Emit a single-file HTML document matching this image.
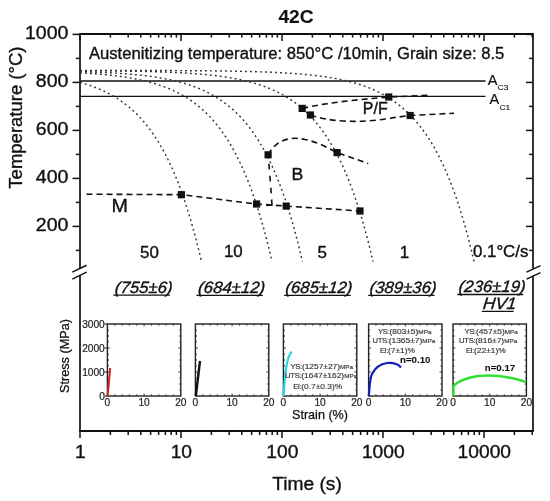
<!DOCTYPE html>
<html><head><meta charset="utf-8"><title>42C CCT diagram</title>
<style>html,body{margin:0;padding:0;background:#fff;}svg{display:block;}</style></head>
<body><svg width="550" height="501" viewBox="0 0 550 501">
<rect width="550" height="501" fill="#fff"/>
<g stroke="#111" fill="none" stroke-linecap="butt">
<line x1="79.2" y1="34" x2="533.8" y2="34" stroke-width="1.8"/>
<line x1="79.2" y1="431" x2="533.8" y2="431" stroke-width="1.8"/>
<line x1="80" y1="34" x2="80" y2="268.4" stroke-width="1.7"/>
<line x1="80" y1="275.4" x2="80" y2="431" stroke-width="1.7"/>
<line x1="533" y1="34" x2="533" y2="268.8" stroke-width="1.7"/>
<line x1="533" y1="275.8" x2="533" y2="431" stroke-width="1.7"/>
<line x1="72.3" y1="272.1" x2="86.6" y2="265.3" stroke-width="1.5"/>
<line x1="72.3" y1="279.1" x2="86.6" y2="272.1" stroke-width="1.5"/>
<line x1="526.5" y1="272.1" x2="540.5" y2="265.6" stroke-width="1.5"/>
<line x1="526.5" y1="279.1" x2="540.5" y2="272.6" stroke-width="1.5"/>
<line x1="75.8" y1="250.4" x2="80" y2="250.4" stroke-width="1.5"/>
<line x1="529.2" y1="250.4" x2="533" y2="250.4" stroke-width="1.5"/>
<line x1="72.5" y1="226.4" x2="80" y2="226.4" stroke-width="1.5"/>
<line x1="526" y1="226.4" x2="533" y2="226.4" stroke-width="1.5"/>
<line x1="75.8" y1="202.4" x2="80" y2="202.4" stroke-width="1.5"/>
<line x1="529.2" y1="202.4" x2="533" y2="202.4" stroke-width="1.5"/>
<line x1="72.5" y1="178.4" x2="80" y2="178.4" stroke-width="1.5"/>
<line x1="526" y1="178.4" x2="533" y2="178.4" stroke-width="1.5"/>
<line x1="75.8" y1="154.4" x2="80" y2="154.4" stroke-width="1.5"/>
<line x1="529.2" y1="154.4" x2="533" y2="154.4" stroke-width="1.5"/>
<line x1="72.5" y1="130.4" x2="80" y2="130.4" stroke-width="1.5"/>
<line x1="526" y1="130.4" x2="533" y2="130.4" stroke-width="1.5"/>
<line x1="75.8" y1="106.4" x2="80" y2="106.4" stroke-width="1.5"/>
<line x1="529.2" y1="106.4" x2="533" y2="106.4" stroke-width="1.5"/>
<line x1="72.5" y1="82.4" x2="80" y2="82.4" stroke-width="1.5"/>
<line x1="526" y1="82.4" x2="533" y2="82.4" stroke-width="1.5"/>
<line x1="75.8" y1="58.4" x2="80" y2="58.4" stroke-width="1.5"/>
<line x1="529.2" y1="58.4" x2="533" y2="58.4" stroke-width="1.5"/>
<line x1="72.5" y1="34.4" x2="80" y2="34.4" stroke-width="1.5"/>
<line x1="526" y1="34.4" x2="533" y2="34.4" stroke-width="1.5"/>
<line x1="80.0" y1="431" x2="80.0" y2="438" stroke-width="1.5"/>
<line x1="80.0" y1="34" x2="80.0" y2="41" stroke-width="1.5"/>
<line x1="110.4" y1="431" x2="110.4" y2="435" stroke-width="1.5"/>
<line x1="110.4" y1="34" x2="110.4" y2="37.6" stroke-width="1.5"/>
<line x1="128.2" y1="431" x2="128.2" y2="435" stroke-width="1.5"/>
<line x1="128.2" y1="34" x2="128.2" y2="37.6" stroke-width="1.5"/>
<line x1="140.8" y1="431" x2="140.8" y2="435" stroke-width="1.5"/>
<line x1="140.8" y1="34" x2="140.8" y2="37.6" stroke-width="1.5"/>
<line x1="150.6" y1="431" x2="150.6" y2="435" stroke-width="1.5"/>
<line x1="150.6" y1="34" x2="150.6" y2="37.6" stroke-width="1.5"/>
<line x1="158.6" y1="431" x2="158.6" y2="435" stroke-width="1.5"/>
<line x1="158.6" y1="34" x2="158.6" y2="37.6" stroke-width="1.5"/>
<line x1="165.4" y1="431" x2="165.4" y2="435" stroke-width="1.5"/>
<line x1="165.4" y1="34" x2="165.4" y2="37.6" stroke-width="1.5"/>
<line x1="171.2" y1="431" x2="171.2" y2="435" stroke-width="1.5"/>
<line x1="171.2" y1="34" x2="171.2" y2="37.6" stroke-width="1.5"/>
<line x1="176.4" y1="431" x2="176.4" y2="435" stroke-width="1.5"/>
<line x1="176.4" y1="34" x2="176.4" y2="37.6" stroke-width="1.5"/>
<line x1="181.0" y1="431" x2="181.0" y2="438" stroke-width="1.5"/>
<line x1="181.0" y1="34" x2="181.0" y2="41" stroke-width="1.5"/>
<line x1="211.4" y1="431" x2="211.4" y2="435" stroke-width="1.5"/>
<line x1="211.4" y1="34" x2="211.4" y2="37.6" stroke-width="1.5"/>
<line x1="229.2" y1="431" x2="229.2" y2="435" stroke-width="1.5"/>
<line x1="229.2" y1="34" x2="229.2" y2="37.6" stroke-width="1.5"/>
<line x1="241.8" y1="431" x2="241.8" y2="435" stroke-width="1.5"/>
<line x1="241.8" y1="34" x2="241.8" y2="37.6" stroke-width="1.5"/>
<line x1="251.6" y1="431" x2="251.6" y2="435" stroke-width="1.5"/>
<line x1="251.6" y1="34" x2="251.6" y2="37.6" stroke-width="1.5"/>
<line x1="259.6" y1="431" x2="259.6" y2="435" stroke-width="1.5"/>
<line x1="259.6" y1="34" x2="259.6" y2="37.6" stroke-width="1.5"/>
<line x1="266.4" y1="431" x2="266.4" y2="435" stroke-width="1.5"/>
<line x1="266.4" y1="34" x2="266.4" y2="37.6" stroke-width="1.5"/>
<line x1="272.2" y1="431" x2="272.2" y2="435" stroke-width="1.5"/>
<line x1="272.2" y1="34" x2="272.2" y2="37.6" stroke-width="1.5"/>
<line x1="277.4" y1="431" x2="277.4" y2="435" stroke-width="1.5"/>
<line x1="277.4" y1="34" x2="277.4" y2="37.6" stroke-width="1.5"/>
<line x1="282.0" y1="431" x2="282.0" y2="438" stroke-width="1.5"/>
<line x1="282.0" y1="34" x2="282.0" y2="41" stroke-width="1.5"/>
<line x1="312.4" y1="431" x2="312.4" y2="435" stroke-width="1.5"/>
<line x1="312.4" y1="34" x2="312.4" y2="37.6" stroke-width="1.5"/>
<line x1="330.2" y1="431" x2="330.2" y2="435" stroke-width="1.5"/>
<line x1="330.2" y1="34" x2="330.2" y2="37.6" stroke-width="1.5"/>
<line x1="342.8" y1="431" x2="342.8" y2="435" stroke-width="1.5"/>
<line x1="342.8" y1="34" x2="342.8" y2="37.6" stroke-width="1.5"/>
<line x1="352.6" y1="431" x2="352.6" y2="435" stroke-width="1.5"/>
<line x1="352.6" y1="34" x2="352.6" y2="37.6" stroke-width="1.5"/>
<line x1="360.6" y1="431" x2="360.6" y2="435" stroke-width="1.5"/>
<line x1="360.6" y1="34" x2="360.6" y2="37.6" stroke-width="1.5"/>
<line x1="367.4" y1="431" x2="367.4" y2="435" stroke-width="1.5"/>
<line x1="367.4" y1="34" x2="367.4" y2="37.6" stroke-width="1.5"/>
<line x1="373.2" y1="431" x2="373.2" y2="435" stroke-width="1.5"/>
<line x1="373.2" y1="34" x2="373.2" y2="37.6" stroke-width="1.5"/>
<line x1="378.4" y1="431" x2="378.4" y2="435" stroke-width="1.5"/>
<line x1="378.4" y1="34" x2="378.4" y2="37.6" stroke-width="1.5"/>
<line x1="383.0" y1="431" x2="383.0" y2="438" stroke-width="1.5"/>
<line x1="383.0" y1="34" x2="383.0" y2="41" stroke-width="1.5"/>
<line x1="413.4" y1="431" x2="413.4" y2="435" stroke-width="1.5"/>
<line x1="413.4" y1="34" x2="413.4" y2="37.6" stroke-width="1.5"/>
<line x1="431.2" y1="431" x2="431.2" y2="435" stroke-width="1.5"/>
<line x1="431.2" y1="34" x2="431.2" y2="37.6" stroke-width="1.5"/>
<line x1="443.8" y1="431" x2="443.8" y2="435" stroke-width="1.5"/>
<line x1="443.8" y1="34" x2="443.8" y2="37.6" stroke-width="1.5"/>
<line x1="453.6" y1="431" x2="453.6" y2="435" stroke-width="1.5"/>
<line x1="453.6" y1="34" x2="453.6" y2="37.6" stroke-width="1.5"/>
<line x1="461.6" y1="431" x2="461.6" y2="435" stroke-width="1.5"/>
<line x1="461.6" y1="34" x2="461.6" y2="37.6" stroke-width="1.5"/>
<line x1="468.4" y1="431" x2="468.4" y2="435" stroke-width="1.5"/>
<line x1="468.4" y1="34" x2="468.4" y2="37.6" stroke-width="1.5"/>
<line x1="474.2" y1="431" x2="474.2" y2="435" stroke-width="1.5"/>
<line x1="474.2" y1="34" x2="474.2" y2="37.6" stroke-width="1.5"/>
<line x1="479.4" y1="431" x2="479.4" y2="435" stroke-width="1.5"/>
<line x1="479.4" y1="34" x2="479.4" y2="37.6" stroke-width="1.5"/>
<line x1="484.0" y1="431" x2="484.0" y2="438" stroke-width="1.5"/>
<line x1="484.0" y1="34" x2="484.0" y2="41" stroke-width="1.5"/>
<line x1="514.4" y1="431" x2="514.4" y2="435" stroke-width="1.5"/>
<line x1="514.4" y1="34" x2="514.4" y2="37.6" stroke-width="1.5"/>
<line x1="532.2" y1="431" x2="532.2" y2="435" stroke-width="1.5"/>
<line x1="532.2" y1="34" x2="532.2" y2="37.6" stroke-width="1.5"/>
</g>
<text transform="translate(68.40 39.00) scale(1.040 1)" font-family='"Liberation Sans", Arial, sans-serif' font-size="18.8" fill="#111" stroke="#111" stroke-width="0.35" text-anchor="end">1000</text>
<text transform="translate(68.40 87.00) scale(1.040 1)" font-family='"Liberation Sans", Arial, sans-serif' font-size="18.8" fill="#111" stroke="#111" stroke-width="0.35" text-anchor="end">800</text>
<text transform="translate(68.40 135.00) scale(1.040 1)" font-family='"Liberation Sans", Arial, sans-serif' font-size="18.8" fill="#111" stroke="#111" stroke-width="0.35" text-anchor="end">600</text>
<text transform="translate(68.40 183.00) scale(1.040 1)" font-family='"Liberation Sans", Arial, sans-serif' font-size="18.8" fill="#111" stroke="#111" stroke-width="0.35" text-anchor="end">400</text>
<text transform="translate(68.40 231.00) scale(1.040 1)" font-family='"Liberation Sans", Arial, sans-serif' font-size="18.8" fill="#111" stroke="#111" stroke-width="0.35" text-anchor="end">200</text>
<text transform="translate(80.30 457.60) scale(1.050 1)" font-family='"Liberation Sans", Arial, sans-serif' font-size="18.3" fill="#111" stroke="#111" stroke-width="0.35" text-anchor="middle">1</text>
<text transform="translate(181.30 457.60) scale(1.050 1)" font-family='"Liberation Sans", Arial, sans-serif' font-size="18.3" fill="#111" stroke="#111" stroke-width="0.35" text-anchor="middle">10</text>
<text transform="translate(282.30 457.60) scale(1.050 1)" font-family='"Liberation Sans", Arial, sans-serif' font-size="18.3" fill="#111" stroke="#111" stroke-width="0.35" text-anchor="middle">100</text>
<text transform="translate(383.30 457.60) scale(1.050 1)" font-family='"Liberation Sans", Arial, sans-serif' font-size="18.3" fill="#111" stroke="#111" stroke-width="0.35" text-anchor="middle">1000</text>
<text transform="translate(484.30 457.60) scale(1.050 1)" font-family='"Liberation Sans", Arial, sans-serif' font-size="18.3" fill="#111" stroke="#111" stroke-width="0.35" text-anchor="middle">10000</text>
<text transform="translate(272.20 490.00)" font-family='"Liberation Sans", Arial, sans-serif' font-size="19.2" fill="#111" stroke="#111" stroke-width="0.35">Time (s)</text>
<text transform="translate(22.3,117.6) rotate(-90)" text-anchor="middle" font-family='"Liberation Sans", Arial, sans-serif' font-size="18.5" fill="#111" stroke="#111" stroke-width="0.35">Temperature (°C)</text>
<text transform="translate(278.40 23.10)" font-family='"Liberation Sans", Arial, sans-serif' font-size="19.2" fill="#111" stroke="#111" stroke-width="0.1" font-weight="bold">42C</text>
<text transform="translate(88.90 58.60)" font-family='"Liberation Sans", Arial, sans-serif' font-size="16.65" fill="#111" stroke="#111" stroke-width="0.35">Austenitizing temperature: 850°C /10min, Grain size: 8.5</text>
<line x1="80" y1="81" x2="485.5" y2="81" stroke="#111" stroke-width="1.3"/>
<line x1="80" y1="96.3" x2="485.5" y2="96.3" stroke="#111" stroke-width="1.3"/>
<text transform="translate(487.80 84.50)" font-family='"Liberation Sans", Arial, sans-serif' font-size="14.5" fill="#111" stroke="#111" stroke-width="0.2">A</text>
<text transform="translate(497.60 89.70) scale(1.120 1)" font-family='"Liberation Sans", Arial, sans-serif' font-size="7.6" fill="#111" stroke="#111" stroke-width="0.12">C3</text>
<text transform="translate(489.50 103.80)" font-family='"Liberation Sans", Arial, sans-serif' font-size="14.5" fill="#111" stroke="#111" stroke-width="0.2">A</text>
<text transform="translate(499.40 109.70) scale(1.120 1)" font-family='"Liberation Sans", Arial, sans-serif' font-size="7.6" fill="#111" stroke="#111" stroke-width="0.12">C1</text>
<polyline points="80.00,82.40 80.30,82.48 80.61,82.57 80.91,82.65 81.21,82.74 81.52,82.82 81.82,82.91 82.12,83.00 82.43,83.08 82.73,83.17 83.04,83.26 83.34,83.35 83.64,83.44 83.95,83.53 84.25,83.62 84.55,83.71 84.86,83.80 85.16,83.90 85.46,83.99 85.77,84.09 86.07,84.18 86.37,84.28 86.68,84.37 86.98,84.47 87.28,84.57 87.59,84.67 87.89,84.77 88.20,84.87 88.50,84.97 88.80,85.07 89.11,85.17 89.41,85.27 89.71,85.37 90.02,85.48 90.32,85.58 90.62,85.69 90.93,85.79 91.23,85.90 91.53,86.01 91.84,86.12 92.14,86.23 92.44,86.34 92.75,86.45 93.05,86.56 93.36,86.67 93.66,86.78 93.96,86.90 94.27,87.01 94.57,87.13 94.87,87.24 95.18,87.36 95.48,87.48 95.78,87.60 96.09,87.72 96.39,87.84 96.69,87.96 97.00,88.08 97.30,88.20 97.60,88.33 97.91,88.45 98.21,88.58 98.52,88.70 98.82,88.83 99.12,88.96 99.43,89.09 99.73,89.22 100.03,89.35 100.34,89.48 100.64,89.61 100.94,89.74 101.25,89.88 101.55,90.01 101.85,90.15 102.16,90.29 102.46,90.42 102.76,90.56 103.07,90.70 103.37,90.84 103.67,90.99 103.98,91.13 104.28,91.27 104.59,91.42 104.89,91.56 105.19,91.71 105.50,91.86 105.80,92.01 106.10,92.16 106.41,92.31 106.71,92.46 107.01,92.61 107.32,92.77 107.62,92.92 107.92,93.08 108.23,93.24 108.53,93.40 108.83,93.56 109.14,93.72 109.44,93.88 109.75,94.04 110.05,94.21 110.35,94.37 110.66,94.54 110.96,94.71 111.26,94.87 111.57,95.04 111.87,95.22 112.17,95.39 112.48,95.56 112.78,95.74 113.08,95.91 113.39,96.09 113.69,96.27 113.99,96.45 114.30,96.63 114.60,96.81 114.91,96.99 115.21,97.18 115.51,97.36 115.82,97.55 116.12,97.74 116.42,97.93 116.73,98.12 117.03,98.31 117.33,98.51 117.64,98.70 117.94,98.90 118.24,99.10 118.55,99.30 118.85,99.50 119.15,99.70 119.46,99.90 119.76,100.11 120.07,100.31 120.37,100.52 120.67,100.73 120.98,100.94 121.28,101.15 121.58,101.37 121.89,101.58 122.19,101.80 122.49,102.02 122.80,102.24 123.10,102.46 123.40,102.68 123.71,102.90 124.01,103.13 124.31,103.36 124.62,103.59 124.92,103.82 125.23,104.05 125.53,104.28 125.83,104.52 126.14,104.75 126.44,104.99 126.74,105.23 127.05,105.47 127.35,105.72 127.65,105.96 127.96,106.21 128.26,106.46 128.56,106.71 128.87,106.96 129.17,107.21 129.47,107.47 129.78,107.73 130.08,107.99 130.39,108.25 130.69,108.51 130.99,108.78 131.30,109.04 131.60,109.31 131.90,109.58 132.21,109.85 132.51,110.13 132.81,110.40 133.12,110.68 133.42,110.96 133.72,111.24 134.03,111.53 134.33,111.81 134.63,112.10 134.94,112.39 135.24,112.68 135.55,112.97 135.85,113.27 136.15,113.57 136.46,113.87 136.76,114.17 137.06,114.47 137.37,114.78 137.67,115.09 137.97,115.40 138.28,115.71 138.58,116.02 138.88,116.34 139.19,116.66 139.49,116.98 139.79,117.30 140.10,117.63 140.40,117.96 140.71,118.29 141.01,118.62 141.31,118.95 141.62,119.29 141.92,119.63 142.22,119.97 142.53,120.32 142.83,120.66 143.13,121.01 143.44,121.36 143.74,121.72 144.04,122.07 144.35,122.43 144.65,122.79 144.95,123.16 145.26,123.53 145.56,123.89 145.86,124.27 146.17,124.64 146.47,125.02 146.78,125.40 147.08,125.78 147.38,126.16 147.69,126.55 147.99,126.94 148.29,127.33 148.60,127.73 148.90,128.12 149.20,128.53 149.51,128.93 149.81,129.34 150.11,129.74 150.42,130.16 150.72,130.57 151.02,130.99 151.33,131.41 151.63,131.83 151.94,132.26 152.24,132.69 152.54,133.12 152.85,133.56 153.15,134.00 153.45,134.44 153.76,134.88 154.06,135.33 154.36,135.78 154.67,136.24 154.97,136.69 155.27,137.15 155.58,137.62 155.88,138.08 156.18,138.55 156.49,139.03 156.79,139.50 157.10,139.98 157.40,140.47 157.70,140.95 158.01,141.44 158.31,141.94 158.61,142.43 158.92,142.93 159.22,143.44 159.52,143.94 159.83,144.45 160.13,144.97 160.43,145.49 160.74,146.01 161.04,146.53 161.34,147.06 161.65,147.59 161.95,148.13 162.26,148.67 162.56,149.21 162.86,149.76 163.17,150.31 163.47,150.87 163.77,151.42 164.08,151.99 164.38,152.55 164.68,153.12 164.99,153.70 165.29,154.28 165.59,154.86 165.90,155.45 166.20,156.04 166.50,156.63 166.81,157.23 167.11,157.83 167.42,158.44 167.72,159.05 168.02,159.67 168.33,160.29 168.63,160.91 168.93,161.54 169.24,162.17 169.54,162.81 169.84,163.45 170.15,164.10 170.45,164.75 170.75,165.40 171.06,166.06 171.36,166.73 171.66,167.40 171.97,168.07 172.27,168.75 172.58,169.43 172.88,170.12 173.18,170.81 173.49,171.51 173.79,172.21 174.09,172.92 174.40,173.63 174.70,174.34 175.00,175.07 175.31,175.79 175.61,176.53 175.91,177.26 176.22,178.00 176.52,178.75 176.82,179.50 177.13,180.26 177.43,181.02 177.74,181.79 178.04,182.57 178.34,183.34 178.65,184.13 178.95,184.92 179.25,185.71 179.56,186.51 179.86,187.32 180.16,188.13 180.47,188.95 180.77,189.77 181.07,190.60 181.38,191.44 181.68,192.28 181.98,193.12 182.29,193.98 182.59,194.83 182.89,195.70 183.20,196.57 183.50,197.44 183.81,198.33 184.11,199.21 184.41,200.11 184.72,201.01 185.02,201.92 185.32,202.83 185.63,203.75 185.93,204.68 186.23,205.61 186.54,206.55 186.84,207.49 187.14,208.44 187.45,209.40 187.75,210.37 188.05,211.34 188.36,212.32 188.66,213.30 188.97,214.30 189.27,215.29 189.57,216.30 189.88,217.31 190.18,218.33 190.48,219.36 190.79,220.40 191.09,221.44 191.39,222.49 191.70,223.54 192.00,224.61 192.30,225.68 192.61,226.75 192.91,227.84 193.21,228.93 193.52,230.03 193.82,231.14 194.13,232.26 194.43,233.38 194.73,234.51 195.04,235.65 195.34,236.80 195.64,237.96 195.95,239.12 196.25,240.29 196.55,241.47 196.86,242.66 197.16,243.86 197.46,245.06 197.77,246.27 198.07,247.49 198.37,248.72 198.68,249.96 198.98,251.21 199.29,252.46 199.59,253.73 199.89,255.00 200.20,256.28 200.50,257.57 200.80,258.87 201.11,260.18 201.41,261.50" fill="none" stroke="#333" stroke-width="1.45" stroke-dasharray="1.9 3.1"/>
<polyline points="80.00,72.80 80.48,72.83 80.96,72.85 81.44,72.88 81.92,72.91 82.40,72.93 82.88,72.96 83.36,72.99 83.84,73.02 84.32,73.05 84.80,73.08 85.28,73.11 85.76,73.14 86.24,73.17 86.72,73.20 87.20,73.23 87.68,73.26 88.16,73.29 88.64,73.32 89.12,73.35 89.60,73.39 90.08,73.42 90.56,73.45 91.04,73.49 91.52,73.52 92.00,73.56 92.48,73.59 92.96,73.63 93.44,73.66 93.92,73.70 94.40,73.73 94.88,73.77 95.36,73.81 95.84,73.84 96.32,73.88 96.80,73.92 97.28,73.96 97.76,74.00 98.24,74.04 98.72,74.08 99.20,74.12 99.68,74.16 100.16,74.20 100.64,74.24 101.12,74.28 101.60,74.33 102.08,74.37 102.56,74.41 103.04,74.46 103.52,74.50 104.00,74.55 104.48,74.59 104.96,74.64 105.44,74.69 105.92,74.73 106.40,74.78 106.88,74.83 107.36,74.88 107.84,74.93 108.32,74.98 108.80,75.03 109.28,75.08 109.76,75.13 110.24,75.18 110.72,75.23 111.20,75.29 111.68,75.34 112.16,75.40 112.64,75.45 113.12,75.51 113.60,75.56 114.08,75.62 114.56,75.68 115.04,75.74 115.52,75.79 116.00,75.85 116.48,75.91 116.96,75.97 117.44,76.04 117.92,76.10 118.40,76.16 118.88,76.22 119.36,76.29 119.84,76.35 120.32,76.42 120.80,76.48 121.28,76.55 121.76,76.62 122.24,76.69 122.72,76.76 123.20,76.83 123.68,76.90 124.16,76.97 124.64,77.04 125.12,77.11 125.60,77.19 126.08,77.26 126.56,77.34 127.04,77.41 127.52,77.49 128.00,77.57 128.48,77.65 128.96,77.73 129.44,77.81 129.92,77.89 130.40,77.97 130.88,78.06 131.36,78.14 131.84,78.23 132.32,78.31 132.80,78.40 133.28,78.49 133.76,78.58 134.24,78.67 134.72,78.76 135.20,78.85 135.68,78.94 136.16,79.04 136.64,79.13 137.12,79.23 137.60,79.32 138.08,79.42 138.56,79.52 139.04,79.62 139.52,79.72 140.00,79.83 140.48,79.93 140.96,80.03 141.44,80.14 141.92,80.25 142.40,80.36 142.88,80.46 143.36,80.58 143.84,80.69 144.32,80.80 144.80,80.92 145.28,81.03 145.76,81.15 146.24,81.27 146.72,81.39 147.20,81.51 147.68,81.63 148.16,81.75 148.64,81.88 149.12,82.00 149.60,82.13 150.08,82.26 150.56,82.39 151.04,82.52 151.52,82.66 152.00,82.79 152.48,82.93 152.96,83.07 153.44,83.20 153.92,83.35 154.40,83.49 154.88,83.63 155.36,83.78 155.84,83.92 156.32,84.07 156.80,84.22 157.28,84.38 157.76,84.53 158.24,84.69 158.72,84.84 159.20,85.00 159.68,85.16 160.16,85.32 160.64,85.49 161.12,85.65 161.60,85.82 162.08,85.99 162.56,86.16 163.04,86.34 163.52,86.51 164.00,86.69 164.48,86.87 164.96,87.05 165.44,87.23 165.92,87.42 166.40,87.61 166.88,87.80 167.36,87.99 167.84,88.18 168.32,88.38 168.80,88.57 169.28,88.77 169.76,88.98 170.24,89.18 170.72,89.39 171.20,89.60 171.68,89.81 172.16,90.02 172.64,90.24 173.12,90.45 173.60,90.68 174.08,90.90 174.56,91.12 175.04,91.35 175.52,91.58 176.00,91.82 176.48,92.05 176.96,92.29 177.44,92.53 177.92,92.77 178.40,93.02 178.88,93.27 179.36,93.52 179.84,93.78 180.32,94.03 180.80,94.29 181.28,94.56 181.76,94.82 182.24,95.09 182.72,95.36 183.20,95.64 183.68,95.91 184.16,96.19 184.64,96.48 185.12,96.77 185.60,97.06 186.08,97.35 186.56,97.65 187.04,97.95 187.52,98.25 188.00,98.55 188.48,98.86 188.96,99.18 189.44,99.49 189.92,99.81 190.40,100.14 190.88,100.47 191.36,100.80 191.84,101.13 192.32,101.47 192.80,101.81 193.28,102.16 193.76,102.51 194.24,102.86 194.72,103.22 195.20,103.58 195.68,103.94 196.16,104.31 196.64,104.68 197.12,105.06 197.60,105.44 198.08,105.83 198.56,106.22 199.04,106.61 199.52,107.01 200.00,107.41 200.48,107.82 200.96,108.23 201.44,108.65 201.92,109.07 202.40,109.50 202.88,109.93 203.36,110.36 203.84,110.80 204.32,111.25 204.80,111.69 205.28,112.15 205.76,112.61 206.24,113.07 206.72,113.54 207.20,114.02 207.68,114.50 208.16,114.98 208.64,115.47 209.12,115.97 209.60,116.47 210.08,116.98 210.56,117.49 211.04,118.01 211.52,118.53 212.00,119.06 212.48,119.60 212.96,120.14 213.44,120.69 213.92,121.24 214.40,121.80 214.88,122.36 215.36,122.94 215.84,123.51 216.32,124.10 216.80,124.69 217.28,125.29 217.76,125.89 218.24,126.50 218.72,127.12 219.20,127.74 219.68,128.37 220.16,129.01 220.64,129.66 221.12,130.31 221.60,130.97 222.08,131.63 222.56,132.31 223.04,132.99 223.52,133.68 224.00,134.37 224.48,135.08 224.96,135.79 225.44,136.51 225.92,137.24 226.40,137.97 226.88,138.71 227.36,139.47 227.84,140.23 228.32,140.99 228.80,141.77 229.28,142.56 229.76,143.35 230.24,144.15 230.72,144.97 231.20,145.79 231.68,146.61 232.16,147.45 232.64,148.30 233.12,149.16 233.60,150.03 234.08,150.90 234.56,151.79 235.04,152.68 235.52,153.59 236.00,154.50 236.48,155.43 236.96,156.36 237.44,157.31 237.92,158.27 238.40,159.23 238.88,160.21 239.36,161.20 239.84,162.20 240.33,163.21 240.81,164.23 241.29,165.26 241.77,166.31 242.25,167.36 242.73,168.43 243.21,169.51 243.69,170.60 244.17,171.70 244.65,172.81 245.13,173.94 245.61,175.08 246.09,176.23 246.57,177.40 247.05,178.57 247.53,179.76 248.01,180.97 248.49,182.18 248.97,183.41 249.45,184.66 249.93,185.92 250.41,187.19 250.89,188.47 251.37,189.77 251.85,191.08 252.33,192.41 252.81,193.75 253.29,195.11 253.77,196.48 254.25,197.87 254.73,199.27 255.21,200.69 255.69,202.13 256.17,203.58 256.65,205.04 257.13,206.52 257.61,208.02 258.09,209.53 258.57,211.07 259.05,212.61 259.53,214.18 260.01,215.76 260.49,217.36 260.97,218.98 261.45,220.61 261.93,222.26 262.41,223.94 262.89,225.62 263.37,227.33 263.85,229.06 264.33,230.81 264.81,232.57 265.29,234.35 265.77,236.16 266.25,237.98 266.73,239.83 267.21,241.69 267.69,243.58 268.17,245.48 268.65,247.41 269.13,249.36 269.61,251.32 270.09,253.32 270.57,255.33 271.05,257.36 271.53,259.42 272.01,261.50" fill="none" stroke="#333" stroke-width="1.45" stroke-dasharray="1.9 3.1"/>
<polyline points="80.00,71.60 80.56,71.62 81.11,71.63 81.67,71.65 82.22,71.66 82.78,71.68 83.34,71.69 83.89,71.71 84.45,71.73 85.00,71.75 85.56,71.76 86.12,71.78 86.67,71.80 87.23,71.81 87.78,71.83 88.34,71.85 88.90,71.87 89.45,71.89 90.01,71.91 90.56,71.93 91.12,71.95 91.68,71.97 92.23,71.99 92.79,72.01 93.34,72.03 93.90,72.05 94.46,72.07 95.01,72.09 95.57,72.11 96.12,72.13 96.68,72.16 97.24,72.18 97.79,72.20 98.35,72.22 98.90,72.25 99.46,72.27 100.02,72.29 100.57,72.32 101.13,72.34 101.68,72.37 102.24,72.39 102.80,72.42 103.35,72.44 103.91,72.47 104.47,72.50 105.02,72.52 105.58,72.55 106.13,72.58 106.69,72.61 107.25,72.63 107.80,72.66 108.36,72.69 108.91,72.72 109.47,72.75 110.03,72.78 110.58,72.81 111.14,72.84 111.69,72.87 112.25,72.90 112.81,72.94 113.36,72.97 113.92,73.00 114.47,73.03 115.03,73.07 115.59,73.10 116.14,73.14 116.70,73.17 117.25,73.21 117.81,73.24 118.37,73.28 118.92,73.31 119.48,73.35 120.03,73.39 120.59,73.43 121.15,73.47 121.70,73.51 122.26,73.54 122.81,73.58 123.37,73.63 123.93,73.67 124.48,73.71 125.04,73.75 125.59,73.79 126.15,73.84 126.71,73.88 127.26,73.92 127.82,73.97 128.37,74.02 128.93,74.06 129.49,74.11 130.04,74.16 130.60,74.20 131.15,74.25 131.71,74.30 132.27,74.35 132.82,74.40 133.38,74.45 133.93,74.50 134.49,74.56 135.05,74.61 135.60,74.66 136.16,74.72 136.71,74.77 137.27,74.83 137.83,74.88 138.38,74.94 138.94,75.00 139.49,75.06 140.05,75.12 140.61,75.18 141.16,75.24 141.72,75.30 142.27,75.36 142.83,75.43 143.39,75.49 143.94,75.56 144.50,75.62 145.05,75.69 145.61,75.76 146.17,75.82 146.72,75.89 147.28,75.96 147.84,76.03 148.39,76.11 148.95,76.18 149.50,76.25 150.06,76.33 150.62,76.40 151.17,76.48 151.73,76.56 152.28,76.64 152.84,76.71 153.40,76.80 153.95,76.88 154.51,76.96 155.06,77.04 155.62,77.13 156.18,77.21 156.73,77.30 157.29,77.39 157.84,77.48 158.40,77.57 158.96,77.66 159.51,77.75 160.07,77.85 160.62,77.94 161.18,78.04 161.74,78.13 162.29,78.23 162.85,78.33 163.40,78.43 163.96,78.54 164.52,78.64 165.07,78.75 165.63,78.85 166.18,78.96 166.74,79.07 167.30,79.18 167.85,79.29 168.41,79.41 168.96,79.52 169.52,79.64 170.08,79.75 170.63,79.87 171.19,79.99 171.74,80.12 172.30,80.24 172.86,80.37 173.41,80.49 173.97,80.62 174.52,80.75 175.08,80.89 175.64,81.02 176.19,81.15 176.75,81.29 177.30,81.43 177.86,81.57 178.42,81.71 178.97,81.86 179.53,82.00 180.08,82.15 180.64,82.30 181.20,82.45 181.75,82.61 182.31,82.76 182.86,82.92 183.42,83.08 183.98,83.24 184.53,83.41 185.09,83.57 185.64,83.74 186.20,83.91 186.76,84.08 187.31,84.26 187.87,84.43 188.42,84.61 188.98,84.79 189.54,84.98 190.09,85.16 190.65,85.35 191.21,85.54 191.76,85.74 192.32,85.93 192.87,86.13 193.43,86.33 193.99,86.53 194.54,86.74 195.10,86.95 195.65,87.16 196.21,87.37 196.77,87.59 197.32,87.81 197.88,88.03 198.43,88.26 198.99,88.48 199.55,88.71 200.10,88.95 200.66,89.18 201.21,89.42 201.77,89.67 202.33,89.91 202.88,90.16 203.44,90.41 203.99,90.67 204.55,90.93 205.11,91.19 205.66,91.46 206.22,91.72 206.77,92.00 207.33,92.27 207.89,92.55 208.44,92.83 209.00,93.12 209.55,93.41 210.11,93.70 210.67,94.00 211.22,94.30 211.78,94.61 212.33,94.91 212.89,95.23 213.45,95.54 214.00,95.86 214.56,96.19 215.11,96.52 215.67,96.85 216.23,97.19 216.78,97.53 217.34,97.88 217.89,98.23 218.45,98.58 219.01,98.94 219.56,99.31 220.12,99.67 220.67,100.05 221.23,100.43 221.79,100.81 222.34,101.20 222.90,101.59 223.45,101.99 224.01,102.39 224.57,102.80 225.12,103.21 225.68,103.63 226.23,104.05 226.79,104.48 227.35,104.92 227.90,105.36 228.46,105.81 229.01,106.26 229.57,106.71 230.13,107.18 230.68,107.65 231.24,108.12 231.79,108.60 232.35,109.09 232.91,109.58 233.46,110.08 234.02,110.59 234.57,111.10 235.13,111.62 235.69,112.15 236.24,112.68 236.80,113.22 237.36,113.77 237.91,114.32 238.47,114.88 239.02,115.45 239.58,116.02 240.14,116.60 240.69,117.19 241.25,117.79 241.80,118.39 242.36,119.01 242.92,119.63 243.47,120.26 244.03,120.89 244.58,121.54 245.14,122.19 245.70,122.85 246.25,123.52 246.81,124.19 247.36,124.88 247.92,125.58 248.48,126.28 249.03,126.99 249.59,127.71 250.14,128.45 250.70,129.19 251.26,129.94 251.81,130.70 252.37,131.47 252.92,132.24 253.48,133.03 254.04,133.83 254.59,134.64 255.15,135.46 255.70,136.29 256.26,137.13 256.82,137.98 257.37,138.84 257.93,139.72 258.48,140.60 259.04,141.50 259.60,142.40 260.15,143.32 260.71,144.25 261.26,145.20 261.82,146.15 262.38,147.12 262.93,148.09 263.49,149.09 264.04,150.09 264.60,151.11 265.16,152.14 265.71,153.18 266.27,154.23 266.82,155.30 267.38,156.39 267.94,157.48 268.49,158.59 269.05,159.72 269.60,160.86 270.16,162.01 270.72,163.18 271.27,164.37 271.83,165.56 272.38,166.78 272.94,168.01 273.50,169.25 274.05,170.51 274.61,171.79 275.16,173.08 275.72,174.39 276.28,175.72 276.83,177.06 277.39,178.43 277.94,179.80 278.50,181.20 279.06,182.61 279.61,184.04 280.17,185.49 280.73,186.96 281.28,188.45 281.84,189.96 282.39,191.48 282.95,193.02 283.51,194.59 284.06,196.17 284.62,197.78 285.17,199.40 285.73,201.05 286.29,202.72 286.84,204.40 287.40,206.11 287.95,207.84 288.51,209.60 289.07,211.37 289.62,213.17 290.18,214.99 290.73,216.84 291.29,218.71 291.85,220.60 292.40,222.51 292.96,224.45 293.51,226.42 294.07,228.41 294.63,230.43 295.18,232.47 295.74,234.53 296.29,236.63 296.85,238.75 297.41,240.90 297.96,243.07 298.52,245.27 299.07,247.50 299.63,249.76 300.19,252.05 300.74,254.37 301.30,256.72 301.85,259.09 302.41,261.50" fill="none" stroke="#333" stroke-width="1.45" stroke-dasharray="1.9 3.1"/>
<polyline points="80.00,70.64 80.73,70.64 81.47,70.65 82.20,70.65 82.93,70.66 83.66,70.66 84.40,70.67 85.13,70.67 85.86,70.67 86.59,70.68 87.33,70.68 88.06,70.69 88.79,70.69 89.52,70.70 90.26,70.70 90.99,70.71 91.72,70.71 92.45,70.72 93.19,70.72 93.92,70.73 94.65,70.74 95.38,70.74 96.12,70.75 96.85,70.75 97.58,70.76 98.31,70.76 99.05,70.77 99.78,70.78 100.51,70.78 101.24,70.79 101.98,70.80 102.71,70.80 103.44,70.81 104.17,70.82 104.91,70.82 105.64,70.83 106.37,70.84 107.10,70.85 107.84,70.85 108.57,70.86 109.30,70.87 110.03,70.88 110.77,70.88 111.50,70.89 112.23,70.90 112.96,70.91 113.70,70.92 114.43,70.93 115.16,70.93 115.89,70.94 116.63,70.95 117.36,70.96 118.09,70.97 118.82,70.98 119.56,70.99 120.29,71.00 121.02,71.01 121.75,71.02 122.49,71.03 123.22,71.04 123.95,71.05 124.68,71.06 125.42,71.08 126.15,71.09 126.88,71.10 127.61,71.11 128.35,71.12 129.08,71.13 129.81,71.15 130.54,71.16 131.28,71.17 132.01,71.19 132.74,71.20 133.47,71.21 134.21,71.23 134.94,71.24 135.67,71.25 136.40,71.27 137.14,71.28 137.87,71.30 138.60,71.31 139.33,71.33 140.07,71.34 140.80,71.36 141.53,71.38 142.26,71.39 143.00,71.41 143.73,71.43 144.46,71.44 145.19,71.46 145.93,71.48 146.66,71.50 147.39,71.52 148.12,71.53 148.86,71.55 149.59,71.57 150.32,71.59 151.05,71.61 151.79,71.63 152.52,71.65 153.25,71.67 153.98,71.70 154.72,71.72 155.45,71.74 156.18,71.76 156.91,71.79 157.65,71.81 158.38,71.83 159.11,71.86 159.84,71.88 160.58,71.91 161.31,71.93 162.04,71.96 162.77,71.98 163.51,72.01 164.24,72.04 164.97,72.07 165.70,72.09 166.44,72.12 167.17,72.15 167.90,72.18 168.63,72.21 169.37,72.24 170.10,72.27 170.83,72.30 171.56,72.34 172.30,72.37 173.03,72.40 173.76,72.43 174.49,72.47 175.23,72.50 175.96,72.54 176.69,72.58 177.42,72.61 178.16,72.65 178.89,72.69 179.62,72.73 180.35,72.76 181.09,72.80 181.82,72.85 182.55,72.89 183.28,72.93 184.02,72.97 184.75,73.01 185.48,73.06 186.21,73.10 186.95,73.15 187.68,73.19 188.41,73.24 189.14,73.29 189.88,73.34 190.61,73.39 191.34,73.44 192.07,73.49 192.81,73.54 193.54,73.59 194.27,73.65 195.00,73.70 195.74,73.76 196.47,73.81 197.20,73.87 197.93,73.93 198.67,73.99 199.40,74.05 200.13,74.11 200.86,74.17 201.60,74.24 202.33,74.30 203.06,74.37 203.80,74.44 204.53,74.50 205.26,74.57 205.99,74.64 206.73,74.71 207.46,74.79 208.19,74.86 208.92,74.94 209.66,75.01 210.39,75.09 211.12,75.17 211.85,75.25 212.59,75.33 213.32,75.41 214.05,75.50 214.78,75.58 215.52,75.67 216.25,75.76 216.98,75.85 217.71,75.94 218.45,76.04 219.18,76.13 219.91,76.23 220.64,76.33 221.38,76.43 222.11,76.53 222.84,76.63 223.57,76.73 224.31,76.84 225.04,76.95 225.77,77.06 226.50,77.17 227.24,77.29 227.97,77.40 228.70,77.52 229.43,77.64 230.17,77.76 230.90,77.89 231.63,78.01 232.36,78.14 233.10,78.27 233.83,78.40 234.56,78.54 235.29,78.67 236.03,78.81 236.76,78.96 237.49,79.10 238.22,79.25 238.96,79.40 239.69,79.55 240.42,79.70 241.15,79.86 241.89,80.02 242.62,80.18 243.35,80.34 244.08,80.51 244.82,80.68 245.55,80.85 246.28,81.03 247.01,81.21 247.75,81.39 248.48,81.58 249.21,81.76 249.94,81.96 250.68,82.15 251.41,82.35 252.14,82.55 252.87,82.75 253.61,82.96 254.34,83.17 255.07,83.39 255.80,83.61 256.54,83.83 257.27,84.06 258.00,84.29 258.73,84.52 259.47,84.76 260.20,85.00 260.93,85.25 261.66,85.50 262.40,85.75 263.13,86.01 263.86,86.27 264.59,86.54 265.33,86.81 266.06,87.09 266.79,87.37 267.52,87.65 268.26,87.94 268.99,88.24 269.72,88.54 270.45,88.85 271.19,89.16 271.92,89.47 272.65,89.79 273.38,90.12 274.12,90.45 274.85,90.79 275.58,91.13 276.31,91.48 277.05,91.84 277.78,92.20 278.51,92.57 279.24,92.94 279.98,93.32 280.71,93.70 281.44,94.10 282.17,94.50 282.91,94.90 283.64,95.31 284.37,95.73 285.10,96.16 285.84,96.59 286.57,97.03 287.30,97.48 288.03,97.94 288.77,98.40 289.50,98.87 290.23,99.35 290.96,99.84 291.70,100.34 292.43,100.84 293.16,101.35 293.89,101.88 294.63,102.41 295.36,102.94 296.09,103.49 296.82,104.05 297.56,104.62 298.29,105.19 299.02,105.78 299.75,106.37 300.49,106.98 301.22,107.60 301.95,108.22 302.68,108.86 303.42,109.51 304.15,110.17 304.88,110.84 305.61,111.52 306.35,112.21 307.08,112.91 307.81,113.63 308.54,114.36 309.28,115.10 310.01,115.85 310.74,116.62 311.47,117.39 312.21,118.19 312.94,118.99 313.67,119.81 314.40,120.64 315.14,121.49 315.87,122.35 316.60,123.22 317.33,124.11 318.07,125.02 318.80,125.93 319.53,126.87 320.26,127.82 321.00,128.79 321.73,129.77 322.46,130.77 323.19,131.79 323.93,132.82 324.66,133.87 325.39,134.94 326.13,136.03 326.86,137.13 327.59,138.26 328.32,139.40 329.06,140.56 329.79,141.74 330.52,142.95 331.25,144.17 331.99,145.41 332.72,146.67 333.45,147.96 334.18,149.26 334.92,150.59 335.65,151.94 336.38,153.31 337.11,154.71 337.85,156.13 338.58,157.57 339.31,159.04 340.04,160.53 340.78,162.05 341.51,163.60 342.24,165.17 342.97,166.76 343.71,168.38 344.44,170.03 345.17,171.71 345.90,173.42 346.64,175.15 347.37,176.92 348.10,178.71 348.83,180.53 349.57,182.39 350.30,184.28 351.03,186.19 351.76,188.14 352.50,190.13 353.23,192.14 353.96,194.19 354.69,196.28 355.43,198.40 356.16,200.55 356.89,202.74 357.62,204.97 358.36,207.24 359.09,209.54 359.82,211.89 360.55,214.27 361.29,216.69 362.02,219.15 362.75,221.66 363.48,224.21 364.22,226.80 364.95,229.43 365.68,232.11 366.41,234.83 367.15,237.60 367.88,240.42 368.61,243.28 369.34,246.19 370.08,249.15 370.81,252.16 371.54,255.22 372.27,258.34 373.01,261.50" fill="none" stroke="#333" stroke-width="1.45" stroke-dasharray="1.9 3.1"/>
<polyline points="80.00,70.42 80.99,70.42 81.97,70.43 82.96,70.43 83.94,70.43 84.93,70.43 85.91,70.43 86.90,70.43 87.88,70.43 88.87,70.43 89.85,70.43 90.84,70.43 91.82,70.43 92.81,70.43 93.79,70.43 94.78,70.43 95.76,70.43 96.75,70.44 97.73,70.44 98.72,70.44 99.70,70.44 100.69,70.44 101.67,70.44 102.66,70.44 103.64,70.44 104.63,70.44 105.61,70.44 106.60,70.44 107.58,70.45 108.57,70.45 109.55,70.45 110.54,70.45 111.52,70.45 112.51,70.45 113.49,70.45 114.48,70.45 115.46,70.45 116.45,70.46 117.43,70.46 118.42,70.46 119.40,70.46 120.39,70.46 121.37,70.46 122.36,70.46 123.34,70.46 124.33,70.47 125.31,70.47 126.30,70.47 127.28,70.47 128.27,70.47 129.25,70.47 130.24,70.48 131.22,70.48 132.21,70.48 133.19,70.48 134.18,70.48 135.16,70.48 136.15,70.49 137.13,70.49 138.12,70.49 139.10,70.49 140.09,70.49 141.07,70.50 142.06,70.50 143.04,70.50 144.03,70.50 145.01,70.51 146.00,70.51 146.98,70.51 147.97,70.51 148.95,70.52 149.94,70.52 150.92,70.52 151.91,70.52 152.89,70.53 153.88,70.53 154.86,70.53 155.85,70.54 156.83,70.54 157.82,70.54 158.80,70.54 159.79,70.55 160.77,70.55 161.76,70.55 162.74,70.56 163.73,70.56 164.71,70.57 165.70,70.57 166.68,70.57 167.67,70.58 168.65,70.58 169.64,70.59 170.62,70.59 171.61,70.59 172.59,70.60 173.58,70.60 174.56,70.61 175.55,70.61 176.53,70.62 177.52,70.62 178.50,70.63 179.49,70.63 180.47,70.64 181.46,70.64 182.44,70.65 183.43,70.65 184.41,70.66 185.40,70.67 186.38,70.67 187.37,70.68 188.35,70.68 189.34,70.69 190.32,70.70 191.31,70.70 192.29,70.71 193.28,70.72 194.26,70.72 195.25,70.73 196.23,70.74 197.22,70.75 198.20,70.76 199.19,70.76 200.17,70.77 201.16,70.78 202.14,70.79 203.13,70.80 204.11,70.81 205.10,70.82 206.08,70.83 207.07,70.83 208.05,70.84 209.04,70.85 210.02,70.87 211.01,70.88 211.99,70.89 212.98,70.90 213.96,70.91 214.95,70.92 215.93,70.93 216.92,70.94 217.90,70.96 218.89,70.97 219.87,70.98 220.86,71.00 221.84,71.01 222.83,71.02 223.81,71.04 224.80,71.05 225.78,71.07 226.77,71.08 227.75,71.10 228.74,71.11 229.72,71.13 230.71,71.15 231.69,71.16 232.68,71.18 233.66,71.20 234.65,71.22 235.63,71.23 236.62,71.25 237.60,71.27 238.59,71.29 239.57,71.31 240.56,71.33 241.54,71.35 242.53,71.38 243.51,71.40 244.50,71.42 245.48,71.44 246.47,71.47 247.45,71.49 248.44,71.52 249.42,71.54 250.41,71.57 251.39,71.59 252.38,71.62 253.36,71.65 254.35,71.68 255.33,71.71 256.32,71.74 257.30,71.77 258.29,71.80 259.27,71.83 260.26,71.86 261.24,71.90 262.23,71.93 263.21,71.96 264.20,72.00 265.18,72.04 266.17,72.07 267.15,72.11 268.14,72.15 269.12,72.19 270.11,72.23 271.09,72.27 272.08,72.31 273.06,72.36 274.05,72.40 275.03,72.45 276.02,72.49 277.00,72.54 277.99,72.59 278.97,72.64 279.96,72.69 280.94,72.74 281.93,72.80 282.91,72.85 283.90,72.91 284.88,72.96 285.87,73.02 286.85,73.08 287.84,73.14 288.82,73.20 289.81,73.27 290.79,73.33 291.78,73.40 292.76,73.47 293.75,73.54 294.73,73.61 295.72,73.68 296.70,73.76 297.69,73.83 298.67,73.91 299.66,73.99 300.64,74.07 301.63,74.15 302.61,74.24 303.60,74.33 304.58,74.42 305.57,74.51 306.55,74.60 307.54,74.70 308.52,74.79 309.51,74.89 310.49,75.00 311.48,75.10 312.46,75.21 313.45,75.32 314.43,75.43 315.42,75.54 316.40,75.66 317.39,75.78 318.37,75.90 319.36,76.02 320.34,76.15 321.33,76.28 322.31,76.42 323.30,76.55 324.28,76.69 325.27,76.84 326.25,76.98 327.24,77.13 328.22,77.28 329.21,77.44 330.19,77.60 331.18,77.76 332.16,77.93 333.15,78.10 334.13,78.28 335.12,78.46 336.10,78.64 337.09,78.83 338.07,79.02 339.06,79.21 340.04,79.41 341.03,79.62 342.01,79.83 343.00,80.04 343.98,80.26 344.97,80.48 345.95,80.71 346.94,80.95 347.92,81.19 348.91,81.43 349.89,81.68 350.88,81.94 351.86,82.20 352.85,82.47 353.83,82.74 354.82,83.02 355.80,83.31 356.79,83.60 357.77,83.90 358.76,84.21 359.74,84.52 360.73,84.84 361.71,85.17 362.70,85.51 363.68,85.85 364.67,86.20 365.65,86.56 366.64,86.93 367.62,87.30 368.61,87.69 369.59,88.08 370.58,88.48 371.56,88.89 372.55,89.31 373.53,89.74 374.52,90.18 375.50,90.63 376.49,91.09 377.47,91.56 378.46,92.04 379.44,92.53 380.43,93.03 381.41,93.55 382.40,94.07 383.38,94.61 384.37,95.16 385.35,95.72 386.34,96.30 387.32,96.89 388.31,97.49 389.29,98.10 390.28,98.73 391.26,99.38 392.25,100.03 393.23,100.71 394.22,101.40 395.20,102.10 396.19,102.82 397.17,103.56 398.16,104.31 399.14,105.08 400.13,105.87 401.11,106.67 402.10,107.50 403.08,108.34 404.07,109.20 405.05,110.08 406.04,110.98 407.02,111.90 408.01,112.85 409.00,113.81 409.98,114.80 410.97,115.80 411.95,116.83 412.94,117.89 413.92,118.97 414.91,120.07 415.89,121.20 416.88,122.35 417.86,123.53 418.85,124.74 419.83,125.97 420.82,127.24 421.80,128.53 422.79,129.85 423.77,131.20 424.76,132.58 425.74,133.99 426.73,135.43 427.71,136.91 428.70,138.42 429.68,139.97 430.67,141.55 431.65,143.16 432.64,144.81 433.62,146.50 434.61,148.23 435.59,150.00 436.58,151.81 437.56,153.66 438.55,155.55 439.53,157.48 440.52,159.46 441.50,161.48 442.49,163.55 443.47,165.66 444.46,167.83 445.44,170.04 446.43,172.30 447.41,174.62 448.40,176.98 449.38,179.40 450.37,181.88 451.35,184.41 452.34,187.00 453.32,189.65 454.31,192.36 455.29,195.13 456.28,197.96 457.26,200.86 458.25,203.82 459.23,206.85 460.22,209.95 461.20,213.12 462.19,216.36 463.17,219.67 464.16,223.06 465.14,226.53 466.13,230.08 467.11,233.70 468.10,237.41 469.08,241.20 470.07,245.08 471.05,249.05 472.04,253.11 473.02,257.26 474.01,261.50" fill="none" stroke="#333" stroke-width="1.45" stroke-dasharray="1.9 3.1"/>
<path d="M302.2,108.4 C330,102 360,99.5 388.7,97 L430,95.3" fill="none" stroke="#111" stroke-width="1.6" stroke-dasharray="6 4"/>
<path d="M310.4,115 C330,122 360,123 385,119 C395,117.5 403,116.3 410.1,115.5 L454,113.2" fill="none" stroke="#111" stroke-width="1.6" stroke-dasharray="6 4"/>
<path d="M268.1,154.8 C276,140 290,136 305,139.5 C318,142 328,148 336.8,152.5 L368.2,163.5" fill="none" stroke="#111" stroke-width="1.6" stroke-dasharray="6 4"/>
<path d="M268.2,154.8 L271.8,200" fill="none" stroke="#111" stroke-width="1.6" stroke-dasharray="5.6 6.4" stroke-dashoffset="3"/>
<path d="M271.6,199.9 L272,205.1 L266.6,205.4" fill="none" stroke="#111" stroke-width="1.6"/>
<path d="M86.5,194.2 L181.4,194.7 L256.6,204 L286.2,206.1 L360,211" fill="none" stroke="#111" stroke-width="1.6" stroke-dasharray="6 4"/>
<rect x="177.8" y="191.1" width="7.2" height="7.2" fill="#111"/>
<rect x="253.0" y="200.4" width="7.2" height="7.2" fill="#111"/>
<rect x="282.6" y="202.5" width="7.2" height="7.2" fill="#111"/>
<rect x="356.4" y="207.4" width="7.2" height="7.2" fill="#111"/>
<rect x="264.5" y="151.2" width="7.2" height="7.2" fill="#111"/>
<rect x="333.5" y="149.0" width="7.2" height="7.2" fill="#111"/>
<rect x="298.6" y="104.8" width="7.2" height="7.2" fill="#111"/>
<rect x="306.8" y="111.4" width="7.2" height="7.2" fill="#111"/>
<rect x="385.1" y="93.4" width="7.2" height="7.2" fill="#111"/>
<rect x="406.5" y="111.9" width="7.2" height="7.2" fill="#111"/>
<text transform="translate(362.80 114.40)" font-family='"Liberation Sans", Arial, sans-serif' font-size="16" fill="#111" stroke="#111" stroke-width="0.35">P/F</text>
<text transform="translate(291.50 179.60) scale(1.040 1)" font-family='"Liberation Sans", Arial, sans-serif' font-size="17" fill="#111" stroke="#111" stroke-width="0.35">B</text>
<text transform="translate(111.60 212.30) scale(1.040 1)" font-family='"Liberation Sans", Arial, sans-serif' font-size="19" fill="#111" stroke="#111" stroke-width="0.35">M</text>
<text transform="translate(140.00 258.40) scale(1.070 1)" font-family='"Liberation Sans", Arial, sans-serif' font-size="15.8" fill="#111" stroke="#111" stroke-width="0.35">50</text>
<text transform="translate(223.90 257.20) scale(1.070 1)" font-family='"Liberation Sans", Arial, sans-serif' font-size="15.8" fill="#111" stroke="#111" stroke-width="0.35">10</text>
<text transform="translate(317.60 257.60) scale(1.070 1)" font-family='"Liberation Sans", Arial, sans-serif' font-size="15.8" fill="#111" stroke="#111" stroke-width="0.35">5</text>
<text transform="translate(399.80 257.60) scale(1.070 1)" font-family='"Liberation Sans", Arial, sans-serif' font-size="15.8" fill="#111" stroke="#111" stroke-width="0.35">1</text>
<text transform="translate(473.00 257.40) scale(1.065 1)" font-family='"Liberation Sans", Arial, sans-serif' font-size="15.8" fill="#111" stroke="#111" stroke-width="0.35">0.1°C/s</text>
<text transform="translate(114.60 293.20) scale(1.020 1) skewX(-6)" font-family='"Liberation Sans", Arial, sans-serif' font-size="16.4" fill="#111" stroke="#111" stroke-width="0.35" font-style="italic">(755±6)</text>
<text transform="translate(197.80 293.20) scale(1.020 1) skewX(-6)" font-family='"Liberation Sans", Arial, sans-serif' font-size="16.4" fill="#111" stroke="#111" stroke-width="0.35" font-style="italic">(684±12)</text>
<text transform="translate(285.00 293.20) scale(1.020 1) skewX(-6)" font-family='"Liberation Sans", Arial, sans-serif' font-size="16.4" fill="#111" stroke="#111" stroke-width="0.35" font-style="italic">(685±12)</text>
<text transform="translate(369.20 293.20) scale(1.020 1) skewX(-6)" font-family='"Liberation Sans", Arial, sans-serif' font-size="16.4" fill="#111" stroke="#111" stroke-width="0.35" font-style="italic">(389±36)</text>
<text transform="translate(458.30 292.40) scale(1.020 1) skewX(-6)" font-family='"Liberation Sans", Arial, sans-serif' font-size="16.4" fill="#111" stroke="#111" stroke-width="0.35" font-style="italic">(236±19)</text>
<text transform="translate(482.60 309.20) scale(1.050 1) skewX(-6)" font-family='"Liberation Sans", Arial, sans-serif' font-size="16.3" fill="#111" stroke="#111" stroke-width="0.35" font-style="italic">HV1</text>
<g stroke="#111" stroke-width="1.3">
<line x1="113.3" y1="295.2" x2="169.9" y2="295.2"/>
<line x1="196.5" y1="295.3" x2="262.7" y2="295.3"/>
<line x1="284.1" y1="295.4" x2="350.7" y2="295.4"/>
<line x1="368.2" y1="295.3" x2="434.5" y2="295.3"/>
<line x1="457.3" y1="294.5" x2="523.2" y2="294.5"/>
<line x1="481.8" y1="311.4" x2="513.6" y2="311.4"/>
</g>
<g stroke="#222" fill="none">
<rect x="107.4" y="324" width="73.4" height="72" stroke-width="1.4"/>
<line x1="114.74" y1="324" x2="114.74" y2="325.6" stroke-width="0.9"/>
<line x1="114.74" y1="396" x2="114.74" y2="394.4" stroke-width="0.9"/>
<line x1="122.08" y1="324" x2="122.08" y2="325.6" stroke-width="0.9"/>
<line x1="122.08" y1="396" x2="122.08" y2="394.4" stroke-width="0.9"/>
<line x1="129.42" y1="324" x2="129.42" y2="325.6" stroke-width="0.9"/>
<line x1="129.42" y1="396" x2="129.42" y2="394.4" stroke-width="0.9"/>
<line x1="136.76" y1="324" x2="136.76" y2="325.6" stroke-width="0.9"/>
<line x1="136.76" y1="396" x2="136.76" y2="394.4" stroke-width="0.9"/>
<line x1="144.10" y1="324" x2="144.10" y2="326.4" stroke-width="0.9"/>
<line x1="144.10" y1="396" x2="144.10" y2="393.6" stroke-width="0.9"/>
<line x1="151.44" y1="324" x2="151.44" y2="325.6" stroke-width="0.9"/>
<line x1="151.44" y1="396" x2="151.44" y2="394.4" stroke-width="0.9"/>
<line x1="158.78" y1="324" x2="158.78" y2="325.6" stroke-width="0.9"/>
<line x1="158.78" y1="396" x2="158.78" y2="394.4" stroke-width="0.9"/>
<line x1="166.12" y1="324" x2="166.12" y2="325.6" stroke-width="0.9"/>
<line x1="166.12" y1="396" x2="166.12" y2="394.4" stroke-width="0.9"/>
<line x1="173.46" y1="324" x2="173.46" y2="325.6" stroke-width="0.9"/>
<line x1="173.46" y1="396" x2="173.46" y2="394.4" stroke-width="0.9"/>
<line x1="180.8" y1="390.00" x2="179.20000000000002" y2="390.00" stroke-width="0.9"/>
<line x1="107.4" y1="390.00" x2="109.0" y2="390.00" stroke-width="0.9"/>
<line x1="180.8" y1="384.00" x2="179.20000000000002" y2="384.00" stroke-width="0.9"/>
<line x1="107.4" y1="384.00" x2="109.0" y2="384.00" stroke-width="0.9"/>
<line x1="180.8" y1="378.00" x2="179.20000000000002" y2="378.00" stroke-width="0.9"/>
<line x1="107.4" y1="378.00" x2="109.0" y2="378.00" stroke-width="0.9"/>
<line x1="180.8" y1="372.00" x2="178.4" y2="372.00" stroke-width="0.9"/>
<line x1="107.4" y1="372.00" x2="109.80000000000001" y2="372.00" stroke-width="0.9"/>
<line x1="180.8" y1="366.00" x2="179.20000000000002" y2="366.00" stroke-width="0.9"/>
<line x1="107.4" y1="366.00" x2="109.0" y2="366.00" stroke-width="0.9"/>
<line x1="180.8" y1="360.00" x2="179.20000000000002" y2="360.00" stroke-width="0.9"/>
<line x1="107.4" y1="360.00" x2="109.0" y2="360.00" stroke-width="0.9"/>
<line x1="180.8" y1="354.00" x2="179.20000000000002" y2="354.00" stroke-width="0.9"/>
<line x1="107.4" y1="354.00" x2="109.0" y2="354.00" stroke-width="0.9"/>
<line x1="180.8" y1="348.00" x2="178.4" y2="348.00" stroke-width="0.9"/>
<line x1="107.4" y1="348.00" x2="109.80000000000001" y2="348.00" stroke-width="0.9"/>
<line x1="180.8" y1="342.00" x2="179.20000000000002" y2="342.00" stroke-width="0.9"/>
<line x1="107.4" y1="342.00" x2="109.0" y2="342.00" stroke-width="0.9"/>
<line x1="180.8" y1="336.00" x2="179.20000000000002" y2="336.00" stroke-width="0.9"/>
<line x1="107.4" y1="336.00" x2="109.0" y2="336.00" stroke-width="0.9"/>
<line x1="180.8" y1="330.00" x2="179.20000000000002" y2="330.00" stroke-width="0.9"/>
<line x1="107.4" y1="330.00" x2="109.0" y2="330.00" stroke-width="0.9"/>
</g>
<g font-family='"Liberation Sans", Arial, sans-serif' fill="#222" stroke="#222" stroke-width="0.2" font-size="10.2" text-anchor="middle">
<text x="107.4" y="406.2">0</text>
<text x="144.1" y="406.2">10</text>
<text x="180.8" y="406.2">20</text>
</g>
<g stroke="#222" fill="none">
<rect x="195.4" y="324" width="73.4" height="72" stroke-width="1.4"/>
<line x1="202.74" y1="324" x2="202.74" y2="325.6" stroke-width="0.9"/>
<line x1="202.74" y1="396" x2="202.74" y2="394.4" stroke-width="0.9"/>
<line x1="210.08" y1="324" x2="210.08" y2="325.6" stroke-width="0.9"/>
<line x1="210.08" y1="396" x2="210.08" y2="394.4" stroke-width="0.9"/>
<line x1="217.42" y1="324" x2="217.42" y2="325.6" stroke-width="0.9"/>
<line x1="217.42" y1="396" x2="217.42" y2="394.4" stroke-width="0.9"/>
<line x1="224.76" y1="324" x2="224.76" y2="325.6" stroke-width="0.9"/>
<line x1="224.76" y1="396" x2="224.76" y2="394.4" stroke-width="0.9"/>
<line x1="232.10" y1="324" x2="232.10" y2="326.4" stroke-width="0.9"/>
<line x1="232.10" y1="396" x2="232.10" y2="393.6" stroke-width="0.9"/>
<line x1="239.44" y1="324" x2="239.44" y2="325.6" stroke-width="0.9"/>
<line x1="239.44" y1="396" x2="239.44" y2="394.4" stroke-width="0.9"/>
<line x1="246.78" y1="324" x2="246.78" y2="325.6" stroke-width="0.9"/>
<line x1="246.78" y1="396" x2="246.78" y2="394.4" stroke-width="0.9"/>
<line x1="254.12" y1="324" x2="254.12" y2="325.6" stroke-width="0.9"/>
<line x1="254.12" y1="396" x2="254.12" y2="394.4" stroke-width="0.9"/>
<line x1="261.46" y1="324" x2="261.46" y2="325.6" stroke-width="0.9"/>
<line x1="261.46" y1="396" x2="261.46" y2="394.4" stroke-width="0.9"/>
<line x1="268.8" y1="390.00" x2="267.2" y2="390.00" stroke-width="0.9"/>
<line x1="195.4" y1="390.00" x2="197.0" y2="390.00" stroke-width="0.9"/>
<line x1="268.8" y1="384.00" x2="267.2" y2="384.00" stroke-width="0.9"/>
<line x1="195.4" y1="384.00" x2="197.0" y2="384.00" stroke-width="0.9"/>
<line x1="268.8" y1="378.00" x2="267.2" y2="378.00" stroke-width="0.9"/>
<line x1="195.4" y1="378.00" x2="197.0" y2="378.00" stroke-width="0.9"/>
<line x1="268.8" y1="372.00" x2="266.40000000000003" y2="372.00" stroke-width="0.9"/>
<line x1="195.4" y1="372.00" x2="197.8" y2="372.00" stroke-width="0.9"/>
<line x1="268.8" y1="366.00" x2="267.2" y2="366.00" stroke-width="0.9"/>
<line x1="195.4" y1="366.00" x2="197.0" y2="366.00" stroke-width="0.9"/>
<line x1="268.8" y1="360.00" x2="267.2" y2="360.00" stroke-width="0.9"/>
<line x1="195.4" y1="360.00" x2="197.0" y2="360.00" stroke-width="0.9"/>
<line x1="268.8" y1="354.00" x2="267.2" y2="354.00" stroke-width="0.9"/>
<line x1="195.4" y1="354.00" x2="197.0" y2="354.00" stroke-width="0.9"/>
<line x1="268.8" y1="348.00" x2="266.40000000000003" y2="348.00" stroke-width="0.9"/>
<line x1="195.4" y1="348.00" x2="197.8" y2="348.00" stroke-width="0.9"/>
<line x1="268.8" y1="342.00" x2="267.2" y2="342.00" stroke-width="0.9"/>
<line x1="195.4" y1="342.00" x2="197.0" y2="342.00" stroke-width="0.9"/>
<line x1="268.8" y1="336.00" x2="267.2" y2="336.00" stroke-width="0.9"/>
<line x1="195.4" y1="336.00" x2="197.0" y2="336.00" stroke-width="0.9"/>
<line x1="268.8" y1="330.00" x2="267.2" y2="330.00" stroke-width="0.9"/>
<line x1="195.4" y1="330.00" x2="197.0" y2="330.00" stroke-width="0.9"/>
</g>
<g font-family='"Liberation Sans", Arial, sans-serif' fill="#222" stroke="#222" stroke-width="0.2" font-size="10.2" text-anchor="middle">
<text x="195.4" y="406.2">0</text>
<text x="232.1" y="406.2">10</text>
<text x="268.8" y="406.2">20</text>
</g>
<g stroke="#222" fill="none">
<rect x="283.4" y="324" width="73.4" height="72" stroke-width="1.4"/>
<line x1="290.74" y1="324" x2="290.74" y2="325.6" stroke-width="0.9"/>
<line x1="290.74" y1="396" x2="290.74" y2="394.4" stroke-width="0.9"/>
<line x1="298.08" y1="324" x2="298.08" y2="325.6" stroke-width="0.9"/>
<line x1="298.08" y1="396" x2="298.08" y2="394.4" stroke-width="0.9"/>
<line x1="305.42" y1="324" x2="305.42" y2="325.6" stroke-width="0.9"/>
<line x1="305.42" y1="396" x2="305.42" y2="394.4" stroke-width="0.9"/>
<line x1="312.76" y1="324" x2="312.76" y2="325.6" stroke-width="0.9"/>
<line x1="312.76" y1="396" x2="312.76" y2="394.4" stroke-width="0.9"/>
<line x1="320.10" y1="324" x2="320.10" y2="326.4" stroke-width="0.9"/>
<line x1="320.10" y1="396" x2="320.10" y2="393.6" stroke-width="0.9"/>
<line x1="327.44" y1="324" x2="327.44" y2="325.6" stroke-width="0.9"/>
<line x1="327.44" y1="396" x2="327.44" y2="394.4" stroke-width="0.9"/>
<line x1="334.78" y1="324" x2="334.78" y2="325.6" stroke-width="0.9"/>
<line x1="334.78" y1="396" x2="334.78" y2="394.4" stroke-width="0.9"/>
<line x1="342.12" y1="324" x2="342.12" y2="325.6" stroke-width="0.9"/>
<line x1="342.12" y1="396" x2="342.12" y2="394.4" stroke-width="0.9"/>
<line x1="349.46" y1="324" x2="349.46" y2="325.6" stroke-width="0.9"/>
<line x1="349.46" y1="396" x2="349.46" y2="394.4" stroke-width="0.9"/>
<line x1="356.79999999999995" y1="390.00" x2="355.19999999999993" y2="390.00" stroke-width="0.9"/>
<line x1="283.4" y1="390.00" x2="285.0" y2="390.00" stroke-width="0.9"/>
<line x1="356.79999999999995" y1="384.00" x2="355.19999999999993" y2="384.00" stroke-width="0.9"/>
<line x1="283.4" y1="384.00" x2="285.0" y2="384.00" stroke-width="0.9"/>
<line x1="356.79999999999995" y1="378.00" x2="355.19999999999993" y2="378.00" stroke-width="0.9"/>
<line x1="283.4" y1="378.00" x2="285.0" y2="378.00" stroke-width="0.9"/>
<line x1="356.79999999999995" y1="372.00" x2="354.4" y2="372.00" stroke-width="0.9"/>
<line x1="283.4" y1="372.00" x2="285.79999999999995" y2="372.00" stroke-width="0.9"/>
<line x1="356.79999999999995" y1="366.00" x2="355.19999999999993" y2="366.00" stroke-width="0.9"/>
<line x1="283.4" y1="366.00" x2="285.0" y2="366.00" stroke-width="0.9"/>
<line x1="356.79999999999995" y1="360.00" x2="355.19999999999993" y2="360.00" stroke-width="0.9"/>
<line x1="283.4" y1="360.00" x2="285.0" y2="360.00" stroke-width="0.9"/>
<line x1="356.79999999999995" y1="354.00" x2="355.19999999999993" y2="354.00" stroke-width="0.9"/>
<line x1="283.4" y1="354.00" x2="285.0" y2="354.00" stroke-width="0.9"/>
<line x1="356.79999999999995" y1="348.00" x2="354.4" y2="348.00" stroke-width="0.9"/>
<line x1="283.4" y1="348.00" x2="285.79999999999995" y2="348.00" stroke-width="0.9"/>
<line x1="356.79999999999995" y1="342.00" x2="355.19999999999993" y2="342.00" stroke-width="0.9"/>
<line x1="283.4" y1="342.00" x2="285.0" y2="342.00" stroke-width="0.9"/>
<line x1="356.79999999999995" y1="336.00" x2="355.19999999999993" y2="336.00" stroke-width="0.9"/>
<line x1="283.4" y1="336.00" x2="285.0" y2="336.00" stroke-width="0.9"/>
<line x1="356.79999999999995" y1="330.00" x2="355.19999999999993" y2="330.00" stroke-width="0.9"/>
<line x1="283.4" y1="330.00" x2="285.0" y2="330.00" stroke-width="0.9"/>
</g>
<g font-family='"Liberation Sans", Arial, sans-serif' fill="#222" stroke="#222" stroke-width="0.2" font-size="10.2" text-anchor="middle">
<text x="283.4" y="406.2">0</text>
<text x="320.1" y="406.2">10</text>
<text x="356.8" y="406.2">20</text>
</g>
<g stroke="#222" fill="none">
<rect x="368.6" y="324" width="73.4" height="72" stroke-width="1.4"/>
<line x1="375.94" y1="324" x2="375.94" y2="325.6" stroke-width="0.9"/>
<line x1="375.94" y1="396" x2="375.94" y2="394.4" stroke-width="0.9"/>
<line x1="383.28" y1="324" x2="383.28" y2="325.6" stroke-width="0.9"/>
<line x1="383.28" y1="396" x2="383.28" y2="394.4" stroke-width="0.9"/>
<line x1="390.62" y1="324" x2="390.62" y2="325.6" stroke-width="0.9"/>
<line x1="390.62" y1="396" x2="390.62" y2="394.4" stroke-width="0.9"/>
<line x1="397.96" y1="324" x2="397.96" y2="325.6" stroke-width="0.9"/>
<line x1="397.96" y1="396" x2="397.96" y2="394.4" stroke-width="0.9"/>
<line x1="405.30" y1="324" x2="405.30" y2="326.4" stroke-width="0.9"/>
<line x1="405.30" y1="396" x2="405.30" y2="393.6" stroke-width="0.9"/>
<line x1="412.64" y1="324" x2="412.64" y2="325.6" stroke-width="0.9"/>
<line x1="412.64" y1="396" x2="412.64" y2="394.4" stroke-width="0.9"/>
<line x1="419.98" y1="324" x2="419.98" y2="325.6" stroke-width="0.9"/>
<line x1="419.98" y1="396" x2="419.98" y2="394.4" stroke-width="0.9"/>
<line x1="427.32" y1="324" x2="427.32" y2="325.6" stroke-width="0.9"/>
<line x1="427.32" y1="396" x2="427.32" y2="394.4" stroke-width="0.9"/>
<line x1="434.66" y1="324" x2="434.66" y2="325.6" stroke-width="0.9"/>
<line x1="434.66" y1="396" x2="434.66" y2="394.4" stroke-width="0.9"/>
<line x1="442.0" y1="390.00" x2="440.4" y2="390.00" stroke-width="0.9"/>
<line x1="368.6" y1="390.00" x2="370.20000000000005" y2="390.00" stroke-width="0.9"/>
<line x1="442.0" y1="384.00" x2="440.4" y2="384.00" stroke-width="0.9"/>
<line x1="368.6" y1="384.00" x2="370.20000000000005" y2="384.00" stroke-width="0.9"/>
<line x1="442.0" y1="378.00" x2="440.4" y2="378.00" stroke-width="0.9"/>
<line x1="368.6" y1="378.00" x2="370.20000000000005" y2="378.00" stroke-width="0.9"/>
<line x1="442.0" y1="372.00" x2="439.6" y2="372.00" stroke-width="0.9"/>
<line x1="368.6" y1="372.00" x2="371.0" y2="372.00" stroke-width="0.9"/>
<line x1="442.0" y1="366.00" x2="440.4" y2="366.00" stroke-width="0.9"/>
<line x1="368.6" y1="366.00" x2="370.20000000000005" y2="366.00" stroke-width="0.9"/>
<line x1="442.0" y1="360.00" x2="440.4" y2="360.00" stroke-width="0.9"/>
<line x1="368.6" y1="360.00" x2="370.20000000000005" y2="360.00" stroke-width="0.9"/>
<line x1="442.0" y1="354.00" x2="440.4" y2="354.00" stroke-width="0.9"/>
<line x1="368.6" y1="354.00" x2="370.20000000000005" y2="354.00" stroke-width="0.9"/>
<line x1="442.0" y1="348.00" x2="439.6" y2="348.00" stroke-width="0.9"/>
<line x1="368.6" y1="348.00" x2="371.0" y2="348.00" stroke-width="0.9"/>
<line x1="442.0" y1="342.00" x2="440.4" y2="342.00" stroke-width="0.9"/>
<line x1="368.6" y1="342.00" x2="370.20000000000005" y2="342.00" stroke-width="0.9"/>
<line x1="442.0" y1="336.00" x2="440.4" y2="336.00" stroke-width="0.9"/>
<line x1="368.6" y1="336.00" x2="370.20000000000005" y2="336.00" stroke-width="0.9"/>
<line x1="442.0" y1="330.00" x2="440.4" y2="330.00" stroke-width="0.9"/>
<line x1="368.6" y1="330.00" x2="370.20000000000005" y2="330.00" stroke-width="0.9"/>
</g>
<g font-family='"Liberation Sans", Arial, sans-serif' fill="#222" stroke="#222" stroke-width="0.2" font-size="10.2" text-anchor="middle">
<text x="368.6" y="406.2">0</text>
<text x="405.3" y="406.2">10</text>
<text x="442.0" y="406.2">20</text>
</g>
<g stroke="#222" fill="none">
<rect x="453.0" y="324" width="73.4" height="72" stroke-width="1.4"/>
<line x1="460.34" y1="324" x2="460.34" y2="325.6" stroke-width="0.9"/>
<line x1="460.34" y1="396" x2="460.34" y2="394.4" stroke-width="0.9"/>
<line x1="467.68" y1="324" x2="467.68" y2="325.6" stroke-width="0.9"/>
<line x1="467.68" y1="396" x2="467.68" y2="394.4" stroke-width="0.9"/>
<line x1="475.02" y1="324" x2="475.02" y2="325.6" stroke-width="0.9"/>
<line x1="475.02" y1="396" x2="475.02" y2="394.4" stroke-width="0.9"/>
<line x1="482.36" y1="324" x2="482.36" y2="325.6" stroke-width="0.9"/>
<line x1="482.36" y1="396" x2="482.36" y2="394.4" stroke-width="0.9"/>
<line x1="489.70" y1="324" x2="489.70" y2="326.4" stroke-width="0.9"/>
<line x1="489.70" y1="396" x2="489.70" y2="393.6" stroke-width="0.9"/>
<line x1="497.04" y1="324" x2="497.04" y2="325.6" stroke-width="0.9"/>
<line x1="497.04" y1="396" x2="497.04" y2="394.4" stroke-width="0.9"/>
<line x1="504.38" y1="324" x2="504.38" y2="325.6" stroke-width="0.9"/>
<line x1="504.38" y1="396" x2="504.38" y2="394.4" stroke-width="0.9"/>
<line x1="511.72" y1="324" x2="511.72" y2="325.6" stroke-width="0.9"/>
<line x1="511.72" y1="396" x2="511.72" y2="394.4" stroke-width="0.9"/>
<line x1="519.06" y1="324" x2="519.06" y2="325.6" stroke-width="0.9"/>
<line x1="519.06" y1="396" x2="519.06" y2="394.4" stroke-width="0.9"/>
<line x1="526.4" y1="390.00" x2="524.8" y2="390.00" stroke-width="0.9"/>
<line x1="453.0" y1="390.00" x2="454.6" y2="390.00" stroke-width="0.9"/>
<line x1="526.4" y1="384.00" x2="524.8" y2="384.00" stroke-width="0.9"/>
<line x1="453.0" y1="384.00" x2="454.6" y2="384.00" stroke-width="0.9"/>
<line x1="526.4" y1="378.00" x2="524.8" y2="378.00" stroke-width="0.9"/>
<line x1="453.0" y1="378.00" x2="454.6" y2="378.00" stroke-width="0.9"/>
<line x1="526.4" y1="372.00" x2="524.0" y2="372.00" stroke-width="0.9"/>
<line x1="453.0" y1="372.00" x2="455.4" y2="372.00" stroke-width="0.9"/>
<line x1="526.4" y1="366.00" x2="524.8" y2="366.00" stroke-width="0.9"/>
<line x1="453.0" y1="366.00" x2="454.6" y2="366.00" stroke-width="0.9"/>
<line x1="526.4" y1="360.00" x2="524.8" y2="360.00" stroke-width="0.9"/>
<line x1="453.0" y1="360.00" x2="454.6" y2="360.00" stroke-width="0.9"/>
<line x1="526.4" y1="354.00" x2="524.8" y2="354.00" stroke-width="0.9"/>
<line x1="453.0" y1="354.00" x2="454.6" y2="354.00" stroke-width="0.9"/>
<line x1="526.4" y1="348.00" x2="524.0" y2="348.00" stroke-width="0.9"/>
<line x1="453.0" y1="348.00" x2="455.4" y2="348.00" stroke-width="0.9"/>
<line x1="526.4" y1="342.00" x2="524.8" y2="342.00" stroke-width="0.9"/>
<line x1="453.0" y1="342.00" x2="454.6" y2="342.00" stroke-width="0.9"/>
<line x1="526.4" y1="336.00" x2="524.8" y2="336.00" stroke-width="0.9"/>
<line x1="453.0" y1="336.00" x2="454.6" y2="336.00" stroke-width="0.9"/>
<line x1="526.4" y1="330.00" x2="524.8" y2="330.00" stroke-width="0.9"/>
<line x1="453.0" y1="330.00" x2="454.6" y2="330.00" stroke-width="0.9"/>
</g>
<g font-family='"Liberation Sans", Arial, sans-serif' fill="#222" stroke="#222" stroke-width="0.2" font-size="10.2" text-anchor="middle">
<text x="453.0" y="406.2">0</text>
<text x="489.7" y="406.2">10</text>
<text x="526.4" y="406.2">20</text>
</g>
<g stroke="#222">
<line x1="104.4" y1="396.0" x2="107.4" y2="396.0" stroke-width="1"/>
<line x1="104.4" y1="372.0" x2="107.4" y2="372.0" stroke-width="1"/>
<line x1="104.4" y1="348.0" x2="107.4" y2="348.0" stroke-width="1"/>
<line x1="104.4" y1="324.0" x2="107.4" y2="324.0" stroke-width="1"/>
</g>
<g font-family='"Liberation Sans", Arial, sans-serif' fill="#222" stroke="#222" stroke-width="0.2" font-size="10.2" text-anchor="end">
<text x="104.8" y="399.6">0</text>
<text x="104.8" y="375.6">1000</text>
<text x="104.8" y="351.6">2000</text>
<text x="104.8" y="327.6">3000</text>
</g>
<text transform="translate(69.3,356) rotate(-90)" text-anchor="middle" font-family='"Liberation Sans", Arial, sans-serif' font-size="12.7" fill="#111" stroke="#111" stroke-width="0.25">Stress (MPa)</text>
<text x="320" y="419.4" text-anchor="middle" font-family='"Liberation Sans", Arial, sans-serif' font-size="12.6" fill="#111" stroke="#111" stroke-width="0.25">Strain (%)</text>
<path d="M107.6,396 L110.2,368" fill="none" stroke="#d42020" stroke-width="2"/>
<path d="M195.8,396 L200,361" fill="none" stroke="#111" stroke-width="2.4"/>
<path d="M283.6,396 C284.5,380 285.5,366 288.5,357.5 C289.5,355 290.6,353 291.9,351.6" fill="none" stroke="#22d8e0" stroke-width="2.2"/>
<path d="M368.8,396 C369.5,385 370,378 372,374 C375,368 380,364 387,363 C393,362.5 398,364 401,367.5" fill="none" stroke="#1020b8" stroke-width="2.2"/>
<path d="M453.3,396 L453.6,386 C458,381 466,378 478,376 C492,374.5 508,376 526,382" fill="none" stroke="#30e030" stroke-width="2.4"/>
<text transform="translate(290.4 368.9) scale(1.05 1)" font-family='"Liberation Sans", Arial, sans-serif' fill="#333" stroke="#333" stroke-width="0.15" font-size="8.0"><tspan font-size="7.36" letter-spacing="-0.3">YS:</tspan>(1257±27)<tspan font-size="6.08">MPa</tspan></text>
<text transform="translate(285 377.8) scale(1.05 1)" font-family='"Liberation Sans", Arial, sans-serif' fill="#333" stroke="#333" stroke-width="0.15" font-size="8.0"><tspan font-size="7.36" letter-spacing="-0.3">UTS:</tspan>(1647±162)<tspan font-size="6.08">MPa</tspan></text>
<text transform="translate(293.2 388.7) scale(1.05 1)" font-family='"Liberation Sans", Arial, sans-serif' fill="#333" stroke="#333" stroke-width="0.15" font-size="8.0"><tspan font-size="7.36" letter-spacing="-0.3">El:</tspan>(0.7±0.3)%</text>
<text transform="translate(378 333.5) scale(1.05 1)" font-family='"Liberation Sans", Arial, sans-serif' fill="#333" stroke="#333" stroke-width="0.15" font-size="8.0"><tspan font-size="7.36" letter-spacing="-0.3">YS:</tspan>(803±5)<tspan font-size="6.08">MPa</tspan></text>
<text transform="translate(372.4 343.4) scale(1.05 1)" font-family='"Liberation Sans", Arial, sans-serif' fill="#333" stroke="#333" stroke-width="0.15" font-size="8.0"><tspan font-size="7.36" letter-spacing="-0.3">UTS:</tspan>(1365±7)<tspan font-size="6.08">MPa</tspan></text>
<text transform="translate(380 353.4) scale(1.05 1)" font-family='"Liberation Sans", Arial, sans-serif' fill="#333" stroke="#333" stroke-width="0.15" font-size="8.0"><tspan font-size="7.36" letter-spacing="-0.3">El:</tspan>(7±1)%</text>
<text transform="translate(464.4 333.5) scale(1.05 1)" font-family='"Liberation Sans", Arial, sans-serif' fill="#333" stroke="#333" stroke-width="0.15" font-size="8.0"><tspan font-size="7.36" letter-spacing="-0.3">YS:</tspan>(457±5)<tspan font-size="6.08">MPa</tspan></text>
<text transform="translate(459 343.4) scale(1.05 1)" font-family='"Liberation Sans", Arial, sans-serif' fill="#333" stroke="#333" stroke-width="0.15" font-size="8.0"><tspan font-size="7.36" letter-spacing="-0.3">UTS:</tspan>(816±7)<tspan font-size="6.08">MPa</tspan></text>
<text transform="translate(466 353.4) scale(1.05 1)" font-family='"Liberation Sans", Arial, sans-serif' fill="#333" stroke="#333" stroke-width="0.15" font-size="8.0"><tspan font-size="7.36" letter-spacing="-0.3">El:</tspan>(22±1)%</text>
<text transform="translate(400.00 363.20)" font-family='"Liberation Sans", Arial, sans-serif' font-size="9.7" fill="#111" stroke="#111" stroke-width="0.1" font-weight="bold">n=0.10</text>
<text transform="translate(484.80 371.00)" font-family='"Liberation Sans", Arial, sans-serif' font-size="9.7" fill="#111" stroke="#111" stroke-width="0.1" font-weight="bold">n=0.17</text>
</svg></body></html>
